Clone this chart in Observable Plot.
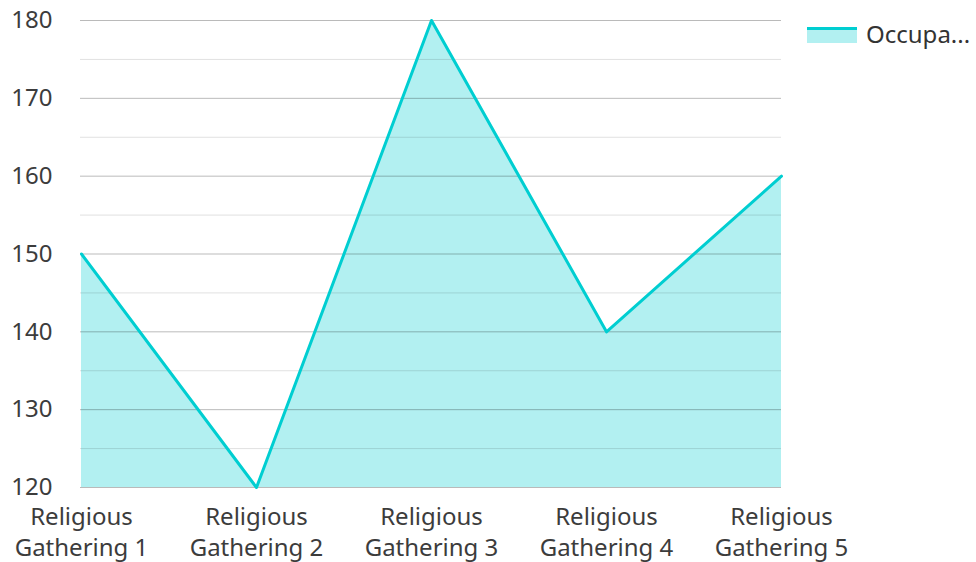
<!DOCTYPE html>
<html>
<head>
<meta charset="utf-8">
<script src="https://cdn.jsdelivr.net/npm/d3@7"></script>
<script src="https://cdn.jsdelivr.net/npm/@observablehq/plot@0.6"></script>
<style>
  body { margin: 0; background: #fff; font-family: "Noto Sans", sans-serif; }
  #wrap { position: relative; width: 976px; height: 562px; }
  #legend { position: absolute; left: 807px; top: 17px; display: flex; align-items: center; font-size: 24px; color: #333; }
  #legend .sw { width: 50px; height: 13px; background: rgba(0,206,209,0.3); border-top: 3px solid #00CED1; margin-right: 9px; margin-top: 2px; }
</style>
</head>
<body>
<div id="wrap"><div id="legend"><div class="sw"></div><span>Occupa...</span></div></div>
<script>
const categories = ["Religious Gathering 1", "Religious Gathering 2", "Religious Gathering 3", "Religious Gathering 4", "Religious Gathering 5"];
const occupancy = [150, 120, 180, 140, 160];
const seriesName = "Occupancy";
const majorTicks = [120, 130, 140, 150, 160, 170, 180];
const minorTicks = [125, 135, 145, 155, 165, 175];

const data = categories.map((c, i) => ({category: c, value: occupancy[i], series: seriesName}));

const chart = Plot.plot({
  width: 976,
  height: 562,
  marginLeft: 80,
  marginRight: 195,
  marginTop: 20,
  marginBottom: 75,
  style: {fontFamily: "'Noto Sans', sans-serif", fontSize: "24px", color: "#3c3c3c", background: "#fff", overflow: "visible"},
  x: {type: "point", domain: categories, padding: 0, label: null},
  y: {domain: [120, 180], label: null},
  marks: [
    Plot.areaY(data, {x: "category", y1: 120, y2: "value", fill: "#00CED1", fillOpacity: 0.3}),
    Plot.ruleY(minorTicks, {stroke: "#000", strokeOpacity: 0.12, strokeWidth: 1}),
    Plot.ruleY(majorTicks, {stroke: "#000", strokeOpacity: 0.27, strokeWidth: 1}),
    Plot.lineY(data, {x: "category", y: "value", stroke: "#00CED1", strokeWidth: 3}),
    Plot.axisY({ticks: majorTicks, tickSize: 0, tickPadding: 28, fontSize: 24, fill: "#3c3c3c"}),
    Plot.axisX({tickSize: 0, tickPadding: 15, fontSize: 24, fill: "#3c3c3c", lineHeight: 1.3,
      tickFormat: d => d.replace(" Gathering", "\nGathering")})
  ]
});
document.getElementById("wrap").prepend(chart);
</script>
</body>
</html>
